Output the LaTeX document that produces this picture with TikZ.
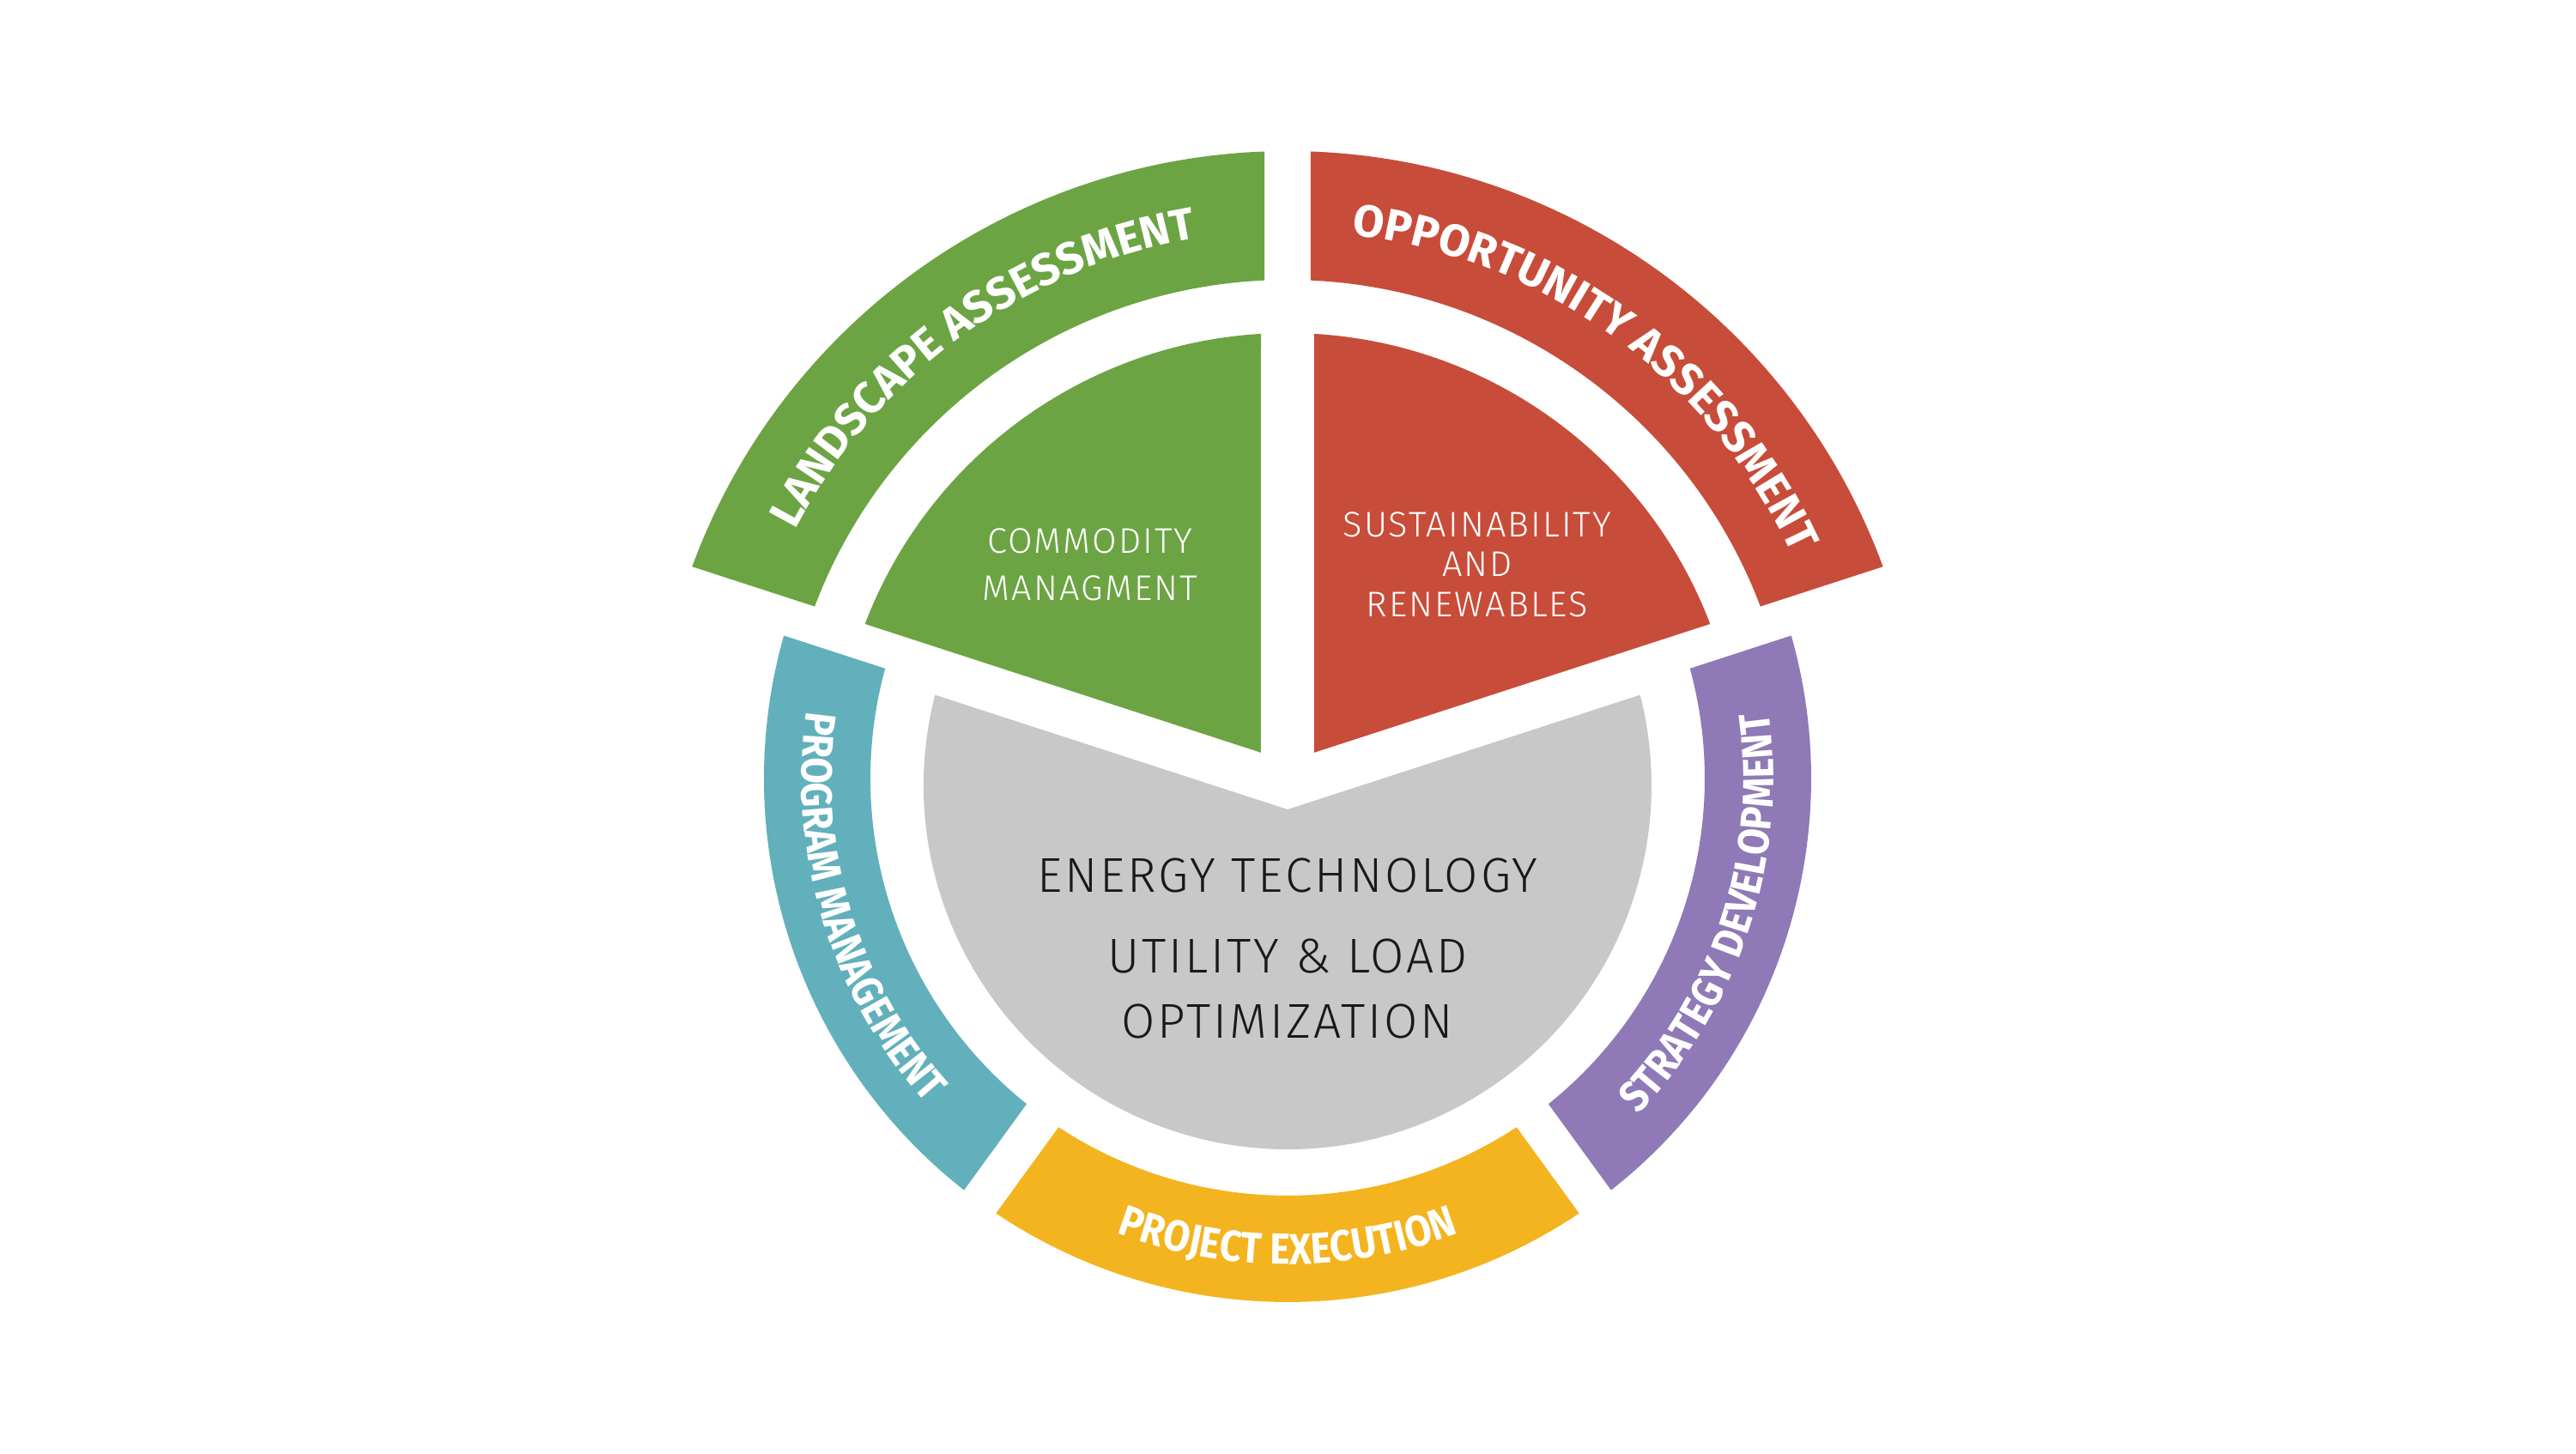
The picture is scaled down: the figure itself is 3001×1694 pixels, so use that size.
\documentclass[tikz,border=0pt]{standalone}
\usepackage{fontspec}
\setmainfont[LetterSpace=5]{Fira Sans Light}
\newfontfamily\ringfont{Fira Sans}
\newfontfamily\ringnarrow[FakeStretch=0.88]{Fira Sans}
\usetikzlibrary{decorations.text}

\definecolor{landgreen}{RGB}{108,164,68}
\definecolor{opporred}{RGB}{200,76,58}
\definecolor{progteal}{RGB}{98,176,188}
\definecolor{stratpurple}{RGB}{143,121,182}
\definecolor{projyellow}{RGB}{244,180,31}
\definecolor{coregray}{RGB}{199,200,199}

\newcommand{\ringbig}{\ringfont\bfseries\fontsize{14.9}{18}\selectfont}
\newcommand{\ringsmall}{\ringnarrow\bfseries\fontsize{14.4}{17}\selectfont}

\begin{document}
\begin{tikzpicture}[x=0.1mm, y=0.1mm,
  inner/.style={align=center, inner sep=0pt, text=white, font=\fontsize{11.8}{15.65}\selectfont},
  core/.style={inner, text=black!90},
  ringtext/.style={decorate, decoration={text along path, text align=center, text color=white, text={#1}}}]
  \fill[white] (-1500,-779) rectangle (1501,915);

  \fill[landgreen] ({90+asin(27/739)}:739) arc[start angle={90+asin(27/739)}, end angle={162-asin(28/739)}, radius=739]
    -- ({162-asin(28/589)}:589) arc[start angle={162-asin(28/589)}, end angle={90+asin(27/589)}, radius=589] -- cycle;
  \fill[opporred] ({18+asin(28/739)}:739) arc[start angle={18+asin(28/739)}, end angle={90-asin(27/739)}, radius=739]
    -- ({90-asin(27/589)}:589) arc[start angle={90-asin(27/589)}, end angle={18+asin(28/589)}, radius=589] -- cycle;

  \fill[landgreen] (-31,38.15) -- ({90+asin(31/527)}:527)
    arc[start angle={90+asin(31/527)}, end angle={162-asin(26.7/527)}, radius=527] -- cycle;
  \fill[opporred] (31,38.15) -- ({18+asin(26.7/527)}:527)
    arc[start angle={18+asin(26.7/527)}, end angle={90-asin(31/527)}, radius=527] -- cycle;

  \fill[coregray] (0,-28.07) -- ({162+asin(26.7/424)}:424)
    arc[start angle={162+asin(26.7/424)}, end angle={378-asin(26.7/424)}, radius=424] -- cycle;

  \begin{scope}[shift={(0,8)}]
    \foreach \col/\a in {progteal/162, projyellow/234, stratpurple/306}
      \fill[\col] ({\a+asin(23/610)}:610) arc[start angle={\a+asin(23/610)}, end angle={\a+72-asin(23/610)}, radius=610]
        -- ({\a+72-asin(23/486)}:486) arc[start angle={\a+72-asin(23/486)}, end angle={\a+asin(23/486)}, radius=486] -- cycle;

    \path[ringtext={|\ringsmall|PROGRAM MANAGEMENT}] (165:566) arc[start angle=165, end angle=229, radius=566];
    \path[ringtext={|\ringsmall|PROJECT EXECUTION}] (240:566) arc[start angle=240, end angle=300, radius=566];
    \path[ringtext={|\ringsmall|STRATEGY DEVELOPMENT}] (312:566) arc[start angle=312, end angle=372, radius=566];
  \end{scope}

  \path[ringtext={|\ringbig|LANDSCAPE ASSESSMENT}] (160:646) arc[start angle=160, end angle=92, radius=646];
  \path[ringtext={|\ringbig|OPPORTUNITY ASSESSMENT}] (88:646) arc[start angle=88, end angle=20, radius=646];

  \node[inner] (commodity) at (-230,257) {COMMODITY\\MANAGMENT};
  \node[inner, font=\fontsize{11.8}{13.2}\selectfont] (sustain) at (221,257.5) {SUSTAINABILITY\\AND\\RENEWABLES};
  \node[core, font=\fontsize{16.2}{21.6}\selectfont] (energy) at (0,-105) {ENERGY TECHNOLOGY};
  \node[core, font=\fontsize{16.2}{21.6}\selectfont] (utility) at (0,-237) {UTILITY \& LOAD\\OPTIMIZATION};
\end{tikzpicture}
\end{document}
